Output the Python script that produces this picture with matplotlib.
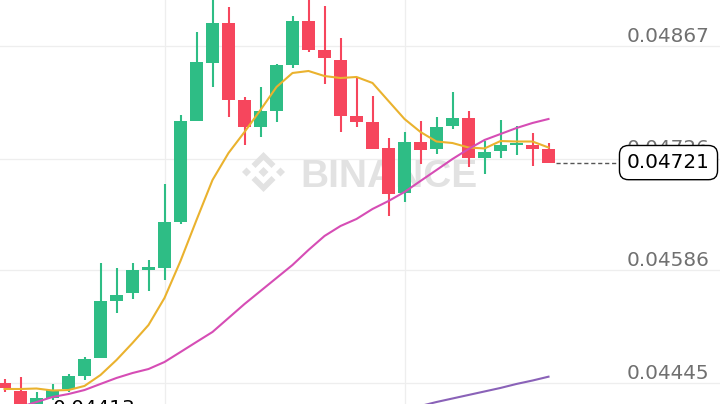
import numpy as np
import matplotlib
matplotlib.use('Agg')
import matplotlib.pyplot as plt
from matplotlib.patches import Polygon
import matplotlib.transforms as mtransforms

# candle data
opens  = [0.044450, 0.044356, 0.044170, 0.044256, 0.044375, 0.044538, 0.044769, 0.045471, 0.045577, 0.045859,
          0.045896, 0.046466, 0.047731, 0.048463, 0.048964, 0.047994, 0.047650, 0.047856, 0.048426, 0.048987,
          0.048620, 0.048495, 0.047797, 0.047722, 0.047389, 0.046826, 0.047464, 0.047377, 0.047668, 0.047765,
          0.047264, 0.047349, 0.047427, 0.047430, 0.047377]
highs  = [0.044500, 0.044525, 0.044337, 0.044438, 0.044557, 0.044776, 0.045953, 0.045890, 0.045953, 0.045984,
          0.046942, 0.047806, 0.048842, 0.049309, 0.049155, 0.048035, 0.048153, 0.048445, 0.049049, 0.049346,
          0.049171, 0.048766, 0.048286, 0.048044, 0.047514, 0.047597, 0.047735, 0.047785, 0.048090, 0.047856,
          0.047480, 0.047743, 0.047672, 0.047577, 0.047452]
lows   = [0.044337, 0.044130, 0.044150, 0.044237, 0.044337, 0.044488, 0.044757, 0.045327, 0.045502, 0.045608,
          0.045740, 0.046441, 0.047725, 0.048153, 0.047777, 0.047430, 0.047534, 0.047722, 0.048391, 0.048599,
          0.048194, 0.047589, 0.047660, 0.047374, 0.046541, 0.046720, 0.047189, 0.047314, 0.047627, 0.047151,
          0.047063, 0.047271, 0.047299, 0.047171, 0.047210]
closes = [0.044388, 0.044170, 0.044262, 0.044362, 0.044538, 0.044751, 0.045471, 0.045558, 0.045859, 0.045903,
          0.046460, 0.047725, 0.048473, 0.048964, 0.047994, 0.047650, 0.047856, 0.048432, 0.048987, 0.048620,
          0.048516, 0.047797, 0.047722, 0.047380, 0.046817, 0.047464, 0.047368, 0.047652, 0.047772, 0.047264,
          0.047339, 0.047430, 0.047455, 0.047380, 0.047210]

# moving averages
ma7  = [0.044375, 0.044375, 0.044381, 0.044356, 0.044362, 0.044413, 0.044550, 0.044738, 0.044951, 0.045176,
        0.045515, 0.045978, 0.046491, 0.046992, 0.047330, 0.047593, 0.047869, 0.048157, 0.048332, 0.048357,
        0.048294, 0.048269, 0.048282, 0.048207, 0.047981, 0.047756, 0.047593, 0.047474, 0.047455, 0.047399,
        0.047387, 0.047480, 0.047474, 0.047474, 0.047399]
ma25 = [np.nan, 0.044150, 0.044212, 0.044275, 0.044312, 0.044362, 0.044438, 0.044513, 0.044575, 0.044625,
        0.044713, 0.044838, 0.044964, 0.045089, 0.045264, 0.045439, 0.045602, 0.045765, 0.045928, 0.046116,
        0.046291, 0.046416, 0.046504, 0.046629, 0.046729, 0.046842, 0.046980, 0.047117, 0.047255, 0.047380,
        0.047493, 0.047568, 0.047643, 0.047706, 0.047756]
ma99 = [np.nan] * 25 + [0.044112, 0.044162, 0.044212, 0.044256, 0.044300, 0.044344, 0.044388, 0.044438,
                        0.044481, 0.044529]

price_ticks = [0.04445, 0.04586, 0.04726, 0.04867]
price_labels = ['0.04445', '0.04586', '0.04726', '0.04867']
time_grid = [10, 25]
last_price = 0.04721
low_price = 0.04413
low_label = '0.04413'

green = '#2EBD85'
red = '#F6465D'
grey_txt = '#707070'
grid_col = '#EEEEEE'
wm_col = '#E2E2E2'

fig = plt.figure(figsize=(7.2, 4.04), dpi=100)
ax = fig.add_axes([0, 0, 1, 1])
ax.set_xlim(-0.28125, 44.71875)
ax.set_ylim(0.044187, 0.049246)
ax.axis('off')

# grid
for v in price_ticks:
    ax.axhline(v, color=grid_col, lw=0.9, zorder=0)
for v in time_grid:
    ax.axvline(v, color=grid_col, lw=0.9, zorder=0)

# watermark (logo + text) in pixel-ish axes coords
def px(x, y):
    return (x / 720.0, 1 - y / 404.0)

cx, cy = 263.5, 172
def diamond(x0, y0, r):
    return [px(x0, y0 - r), px(x0 + r, y0), px(x0, y0 + r), px(x0 - r, y0)]
pieces = [diamond(cx, cy, 5), diamond(cx - 17, cy, 4.5), diamond(cx + 17, cy, 4.5),
          [px(cx - 12, cy - 8), px(cx, cy - 20), px(cx + 12, cy - 8), px(cx + 8, cy - 4), px(cx, cy - 12), px(cx - 8, cy - 4)],
          [px(cx - 12, cy + 8), px(cx, cy + 20), px(cx + 12, cy + 8), px(cx + 8, cy + 4), px(cx, cy + 12), px(cx - 8, cy + 4)]]
for p in pieces:
    ax.add_patch(Polygon(p, closed=True, facecolor=wm_col, edgecolor='none', transform=ax.transAxes, zorder=0.5))
ax.text(300 / 720.0, 1 - 187 / 404.0, 'BINANCE', transform=ax.transAxes, fontsize=28, fontweight='bold',
        family='Liberation Sans', color=wm_col, ha='left', va='baseline', zorder=0.5)

# candles
x = np.arange(len(opens))
o = np.array(opens)
c = np.array(closes)
cols = [green if cc >= oo else red for oo, cc in zip(o, c)]
ax.vlines(x, lows, highs, colors=cols, lw=1.5, zorder=2)
body = np.maximum(np.abs(c - o), 0.000018)
ax.bar(x, body, bottom=np.minimum(o, c), width=0.8, color=cols, zorder=3)

# moving averages
ax.plot(x, ma7, color='#EAB22E', lw=1.5, zorder=4)
ax.plot(x, ma25, color='#D64DB5', lw=1.5, zorder=4)
ax.plot(x, ma99, color='#8A62B8', lw=1.5, zorder=4)

# price labels on the right
trans = mtransforms.offset_copy(ax.get_yaxis_transform(), fig=fig, y=3.0, units='points')
for v, s in zip(price_ticks, price_labels):
    ax.text(0.985, v, s, transform=trans, ha='right', va='baseline', fontsize=14.4, color=grey_txt, zorder=5)

# last price line + box
ax.axhline(last_price, xmin=556 / 720.0, xmax=619 / 720.0, color='#555555', lw=1, ls=(0, (3, 2)), zorder=5)
ax.text(668.5 / 720.0, last_price, '%.5f' % last_price, transform=ax.get_yaxis_transform(), ha='center',
        va='center', fontsize=14.4, color='black', zorder=6,
        bbox=dict(boxstyle='round,pad=0.38,rounding_size=0.45', facecolor='white', edgecolor='black', lw=1))

# low marker (text next to the lowest candle)
ax.text(3.0, low_price, low_label, ha='left', va='center', fontsize=14.4, color='black', zorder=6)

plt.savefig('out.png', dpi=100)
